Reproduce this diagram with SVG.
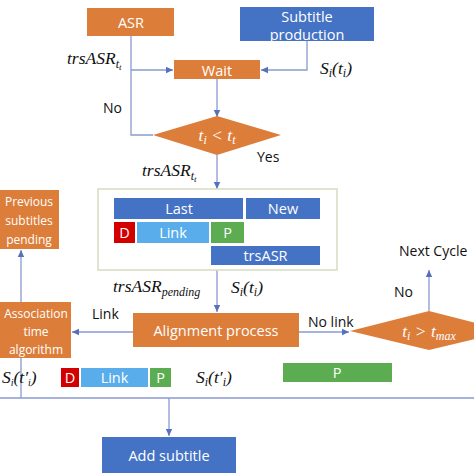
<svg xmlns="http://www.w3.org/2000/svg" width="474" height="474" viewBox="0 0 474 474">
<defs>
<marker id="ah" markerWidth="8" markerHeight="8" refX="7" refY="4" orient="auto" markerUnits="userSpaceOnUse">
<path d="M0,0.8 L7,4 L0,7.2 Z" fill="#5670BE"/>
</marker>
<style>
.or{fill:#DD7D3A}
.bl{fill:#4472C4}
.t{font-family:"Open Sans","Noto Sans",sans-serif;font-size:14.5px;fill:#fff;text-anchor:middle;dominant-baseline:central}
.s{font-size:12px}
.k{font-family:"Open Sans","Noto Sans",sans-serif;font-size:14px;fill:#111}
.m{font-family:"Liberation Serif","DejaVu Serif",serif;font-style:italic;font-size:17.5px;fill:#111}
.mw{font-family:"Liberation Serif","DejaVu Serif",serif;font-style:italic;font-size:17.5px;fill:#fff;text-anchor:middle}
.ln{fill:none;stroke:#8A9AD0;stroke-width:1.3}
</style>
</defs>
<rect width="474" height="474" fill="#fff"/>
<g id="connectors">
<path class="ln" d="M131,36 V135 H153"/>
<path class="ln" d="M131,70 H173" marker-end="url(#ah)"/>
<path class="ln" d="M307,41 V70 H261" marker-end="url(#ah)"/>
<path class="ln" d="M217,79 V117" marker-end="url(#ah)"/>
<path class="ln" d="M217,155 V189" marker-end="url(#ah)"/>
<path class="ln" d="M217,270 V312" marker-end="url(#ah)"/>
<path class="ln" d="M133,332 H72" marker-end="url(#ah)"/>
<path class="ln" d="M299,332 H349" marker-end="url(#ah)"/>
<path class="ln" d="M429,311 V270" marker-end="url(#ah)"/>
<path class="ln" d="M21,398 V250" marker-end="url(#ah)"/>
<path class="ln" d="M0,398 H474"/>
<path class="ln" d="M169,398 V436" marker-end="url(#ah)"/>
</g>
<g id="asr"><rect class="or" x="87" y="8" width="87" height="28"/><text class="t" x="131" y="22">ASR</text></g>
<g id="subtitle-production"><rect class="bl" x="240" y="7" width="134" height="34"/><text class="t" x="307" y="16">Subtitle</text><text class="t" x="307" y="34">production</text></g>
<g id="wait"><rect class="or" x="174" y="60" width="86" height="19"/><text class="t" x="217" y="70">Wait</text></g>
<g id="decision1"><polygon class="or" points="153,135 217,116 281,135 217,155"/><text class="mw" x="217" y="141">t<tspan dy="3" font-size="12">i</tspan><tspan dy="-3"> &lt; t</tspan><tspan dy="3" font-size="12">t</tspan></text></g>
<g id="labels-top">
<text class="m" x="67" y="64">trsASR<tspan dy="4" font-size="12">t</tspan><tspan dy="2" font-size="9">t</tspan></text>
<text class="m" x="320" y="74">S<tspan dy="3" font-size="12">i</tspan><tspan dy="-3">(t</tspan><tspan dy="3" font-size="12">i</tspan><tspan dy="-3">)</tspan></text>
<text class="k" x="103" y="113">No</text>
<text class="k" x="257" y="162">Yes</text>
<text class="m" x="142" y="176">trsASR<tspan dy="4" font-size="12">t</tspan><tspan dy="2" font-size="9">t</tspan></text>
</g>
<g id="buffer">
<rect x="98" y="189" width="239" height="81" fill="#fff" stroke="#D6DBC2" stroke-width="1.5"/>
<rect class="bl" x="114" y="198" width="129" height="21"/><text class="t" x="179" y="208">Last</text>
<rect class="bl" x="246" y="198" width="74" height="21"/><text class="t" x="283" y="208">New</text>
<rect x="114" y="222" width="21" height="21" fill="#D40000"/><text class="t" x="124.5" y="232">D</text>
<rect x="137" y="222" width="72" height="21" fill="#5AADEB"/><text class="t" x="173" y="232">Link</text>
<rect x="211" y="222" width="33" height="21" fill="#5CAD51"/><text class="t" x="227.5" y="232">P</text>
<rect class="bl" x="211" y="246" width="109" height="19"/><text class="t" x="265.5" y="255">trsASR</text>
</g>
<g id="labels-mid">
<text class="m" x="113" y="292">trsASR<tspan dy="4" font-size="12">pending</tspan></text>
<text class="m" x="231" y="293">S<tspan dy="3" font-size="12">i</tspan><tspan dy="-3">(t</tspan><tspan dy="3" font-size="12">i</tspan><tspan dy="-3">)</tspan></text>
<text class="k" x="92" y="319">Link</text>
<text class="k" x="308" y="327">No link</text>
<text class="k" x="394" y="297">No</text>
<text class="k" x="399" y="256">Next Cycle</text>
</g>
<g id="previous-pending"><rect class="or" x="-40" y="190" width="99" height="59"/><text class="t s" x="29" y="201">Previous</text><text class="t s" x="29" y="220">subtitles</text><text class="t s" x="29" y="239">pending</text></g>
<g id="association"><rect class="or" x="-40" y="302" width="111" height="56"/><text class="t s" x="36" y="313">Association</text><text class="t s" x="36" y="331">time</text><text class="t s" x="36" y="349">algorithm</text></g>
<g id="alignment"><rect class="or" x="133" y="313" width="166" height="34"/><text class="t" x="216" y="330">Alignment process</text></g>
<g id="decision2"><polygon class="or" points="350,331 429,311 508,331 429,350"/><text class="mw" x="429" y="337">t<tspan dy="3" font-size="12">i</tspan><tspan dy="-3"> &gt; t</tspan><tspan dy="3" font-size="12">max</tspan></text></g>
<g id="bottom-row">
<text class="m" x="2" y="383" font-size="15">S<tspan dy="3" font-size="10">i</tspan><tspan dy="-3">(t′</tspan><tspan dy="3" font-size="10">i</tspan><tspan dy="-3">)</tspan></text>
<rect x="61" y="368" width="18" height="19" fill="#D40000"/><text class="t" x="70" y="377">D</text>
<rect x="81" y="368" width="67" height="19" fill="#5AADEB"/><text class="t" x="114.5" y="377">Link</text>
<rect x="150" y="368" width="21" height="19" fill="#5CAD51"/><text class="t" x="160.5" y="377">P</text>
<text class="m" x="196" y="383">S<tspan dy="3" font-size="12">i</tspan><tspan dy="-3">(t′</tspan><tspan dy="3" font-size="12">i</tspan><tspan dy="-3">)</tspan></text>
<rect x="283" y="363" width="109" height="19" fill="#5CAD51"/><text class="t" x="337" y="372">P</text>
</g>
<g id="add-subtitle"><rect class="bl" x="102" y="437" width="134" height="36"/><text class="t" x="169" y="455">Add subtitle</text></g>
</svg>
